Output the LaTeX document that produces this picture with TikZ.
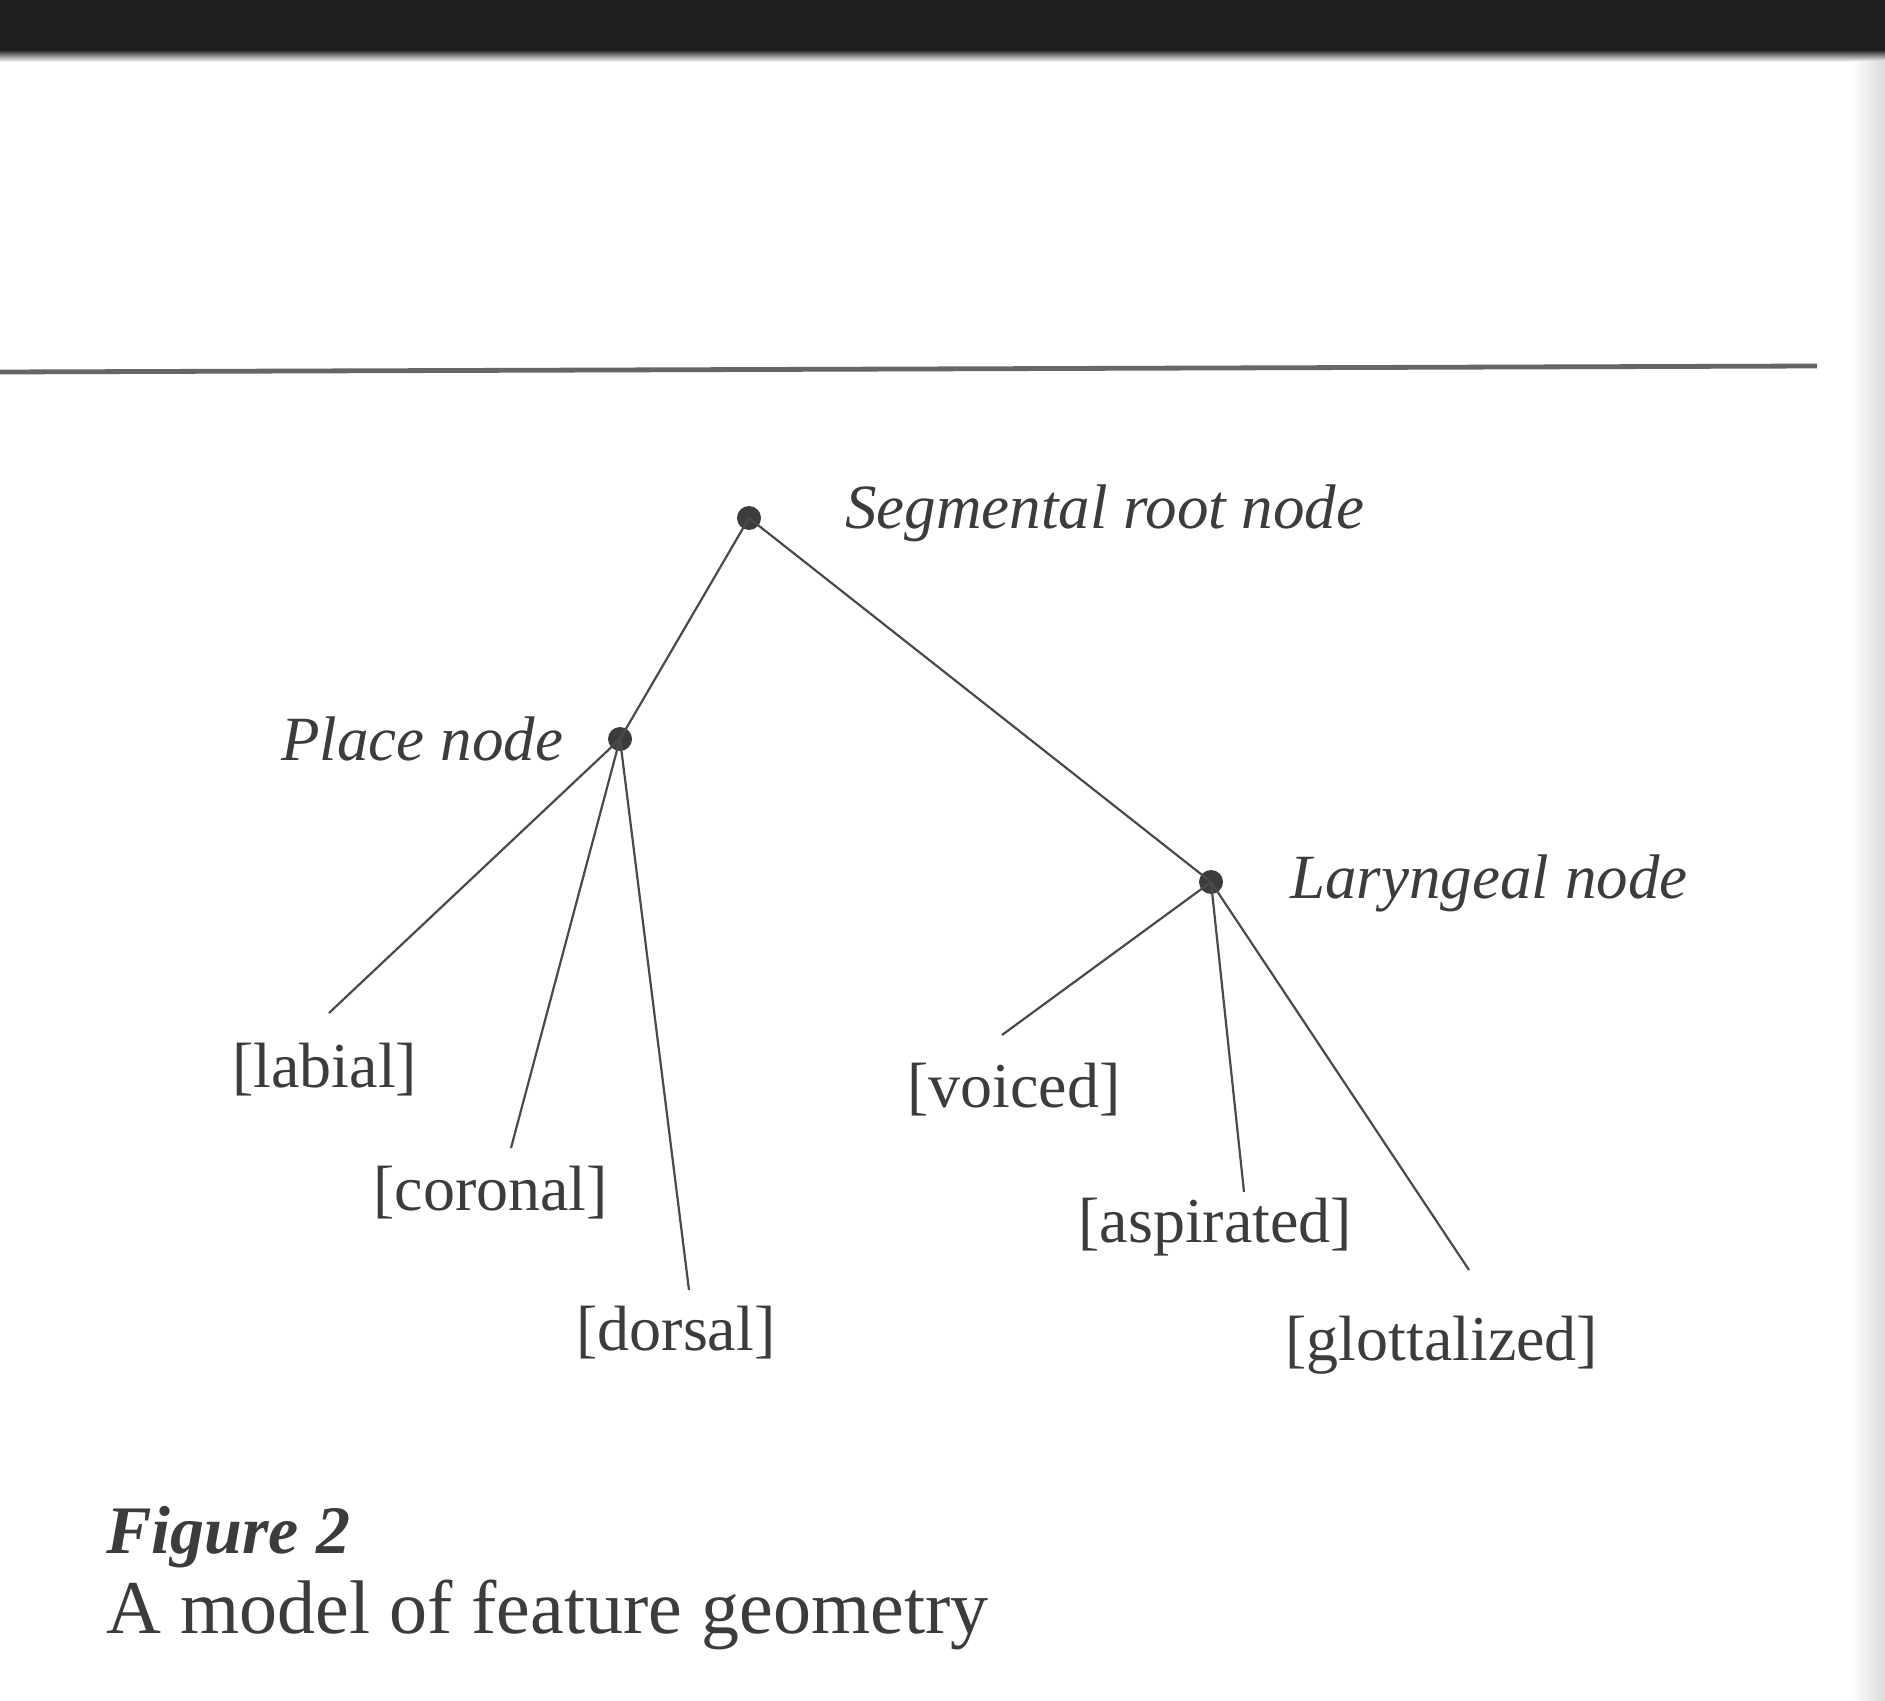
\documentclass[tikz,border=0pt]{standalone}
\usepackage{fontspec}
\setmainfont{Liberation Serif}
\definecolor{ink}{HTML}{3C3C3C}
\definecolor{lineink}{HTML}{4A4A4A}
\begin{document}
\begin{tikzpicture}[x=0.5pt,y=-0.5pt,
  branch/.style={draw=lineink,line width=1.1pt},
  dotnode/.style={circle,fill=ink,inner sep=0pt,minimum size=12pt},
  nodelabel/.style={inner sep=0pt,anchor=base west,text=ink,font=\fontsize{31.5}{38}\selectfont\itshape},
  feature/.style={inner sep=0pt,anchor=base west,text=ink,font=\fontsize{32}{38}\selectfont},
  figtitle/.style={inner sep=0pt,anchor=base west,text=ink,font=\fontsize{34}{40}\selectfont\bfseries\itshape},
  figcaption/.style={inner sep=0pt,anchor=base west,text=ink,font=\fontsize{38}{44}\selectfont}]
\useasboundingbox (0,0) rectangle (1885,1701);
% page background and scan edges
\fill[white] (0,0) rectangle (1885,1701);
\fill[black!88] (0,0) rectangle (1885,52);
\shade[top color=black!70,bottom color=white] (0,52) rectangle (1885,62);
\shade[left color=white,right color=black!14] (1850,62) rectangle (1885,1701);
% horizontal rule
\draw[line width=2.4pt,draw=black!60] (0,372) -- (1817,366);
% tree nodes
\node[dotnode] (root) at (749,518) {};
\node[dotnode] (place) at (620,739) {};
\node[dotnode] (lar) at (1211,882) {};
% node labels
\node[nodelabel] (rootlab) at (845,529) {Segmental root node};
\node[nodelabel] (placelab) at (281,760) {Place node};
\node[nodelabel] (larlab) at (1290,898) {Laryngeal node};
% line ends
\coordinate (labE) at (329,1013);
\coordinate (corE) at (511,1148);
\coordinate (dorE) at (689,1290);
\coordinate (voiE) at (1002,1035);
\coordinate (aspE) at (1244,1192);
\coordinate (gloE) at (1469,1270);
% branches
\draw[branch] (root.center) -- (place.center);
\draw[branch] (root.center) -- (lar.center);
\draw[branch] (place.center) -- (labE);
\draw[branch] (place.center) -- (corE);
\draw[branch] (place.center) -- (dorE);
\draw[branch] (lar.center) -- (voiE);
\draw[branch] (lar.center) -- (aspE);
\draw[branch] (lar.center) -- (gloE);
% features
\node[feature] (labial) at (232,1087) {[labial]};
\node[feature] (coronal) at (373,1210) {[coronal]};
\node[feature] (dorsal) at (576,1350) {[dorsal]};
\node[feature] (voiced) at (907,1107) {[voiced]};
\node[feature] (aspirated) at (1078,1242) {[aspirated]};
\node[feature] (glottalized) at (1285,1360) {[glottalized]};
% caption
\node[figtitle] (fig) at (106,1553) {Figure 2};
\node[figcaption] (cap) at (106,1633) {A model of feature geometry};
\end{tikzpicture}
\end{document}
